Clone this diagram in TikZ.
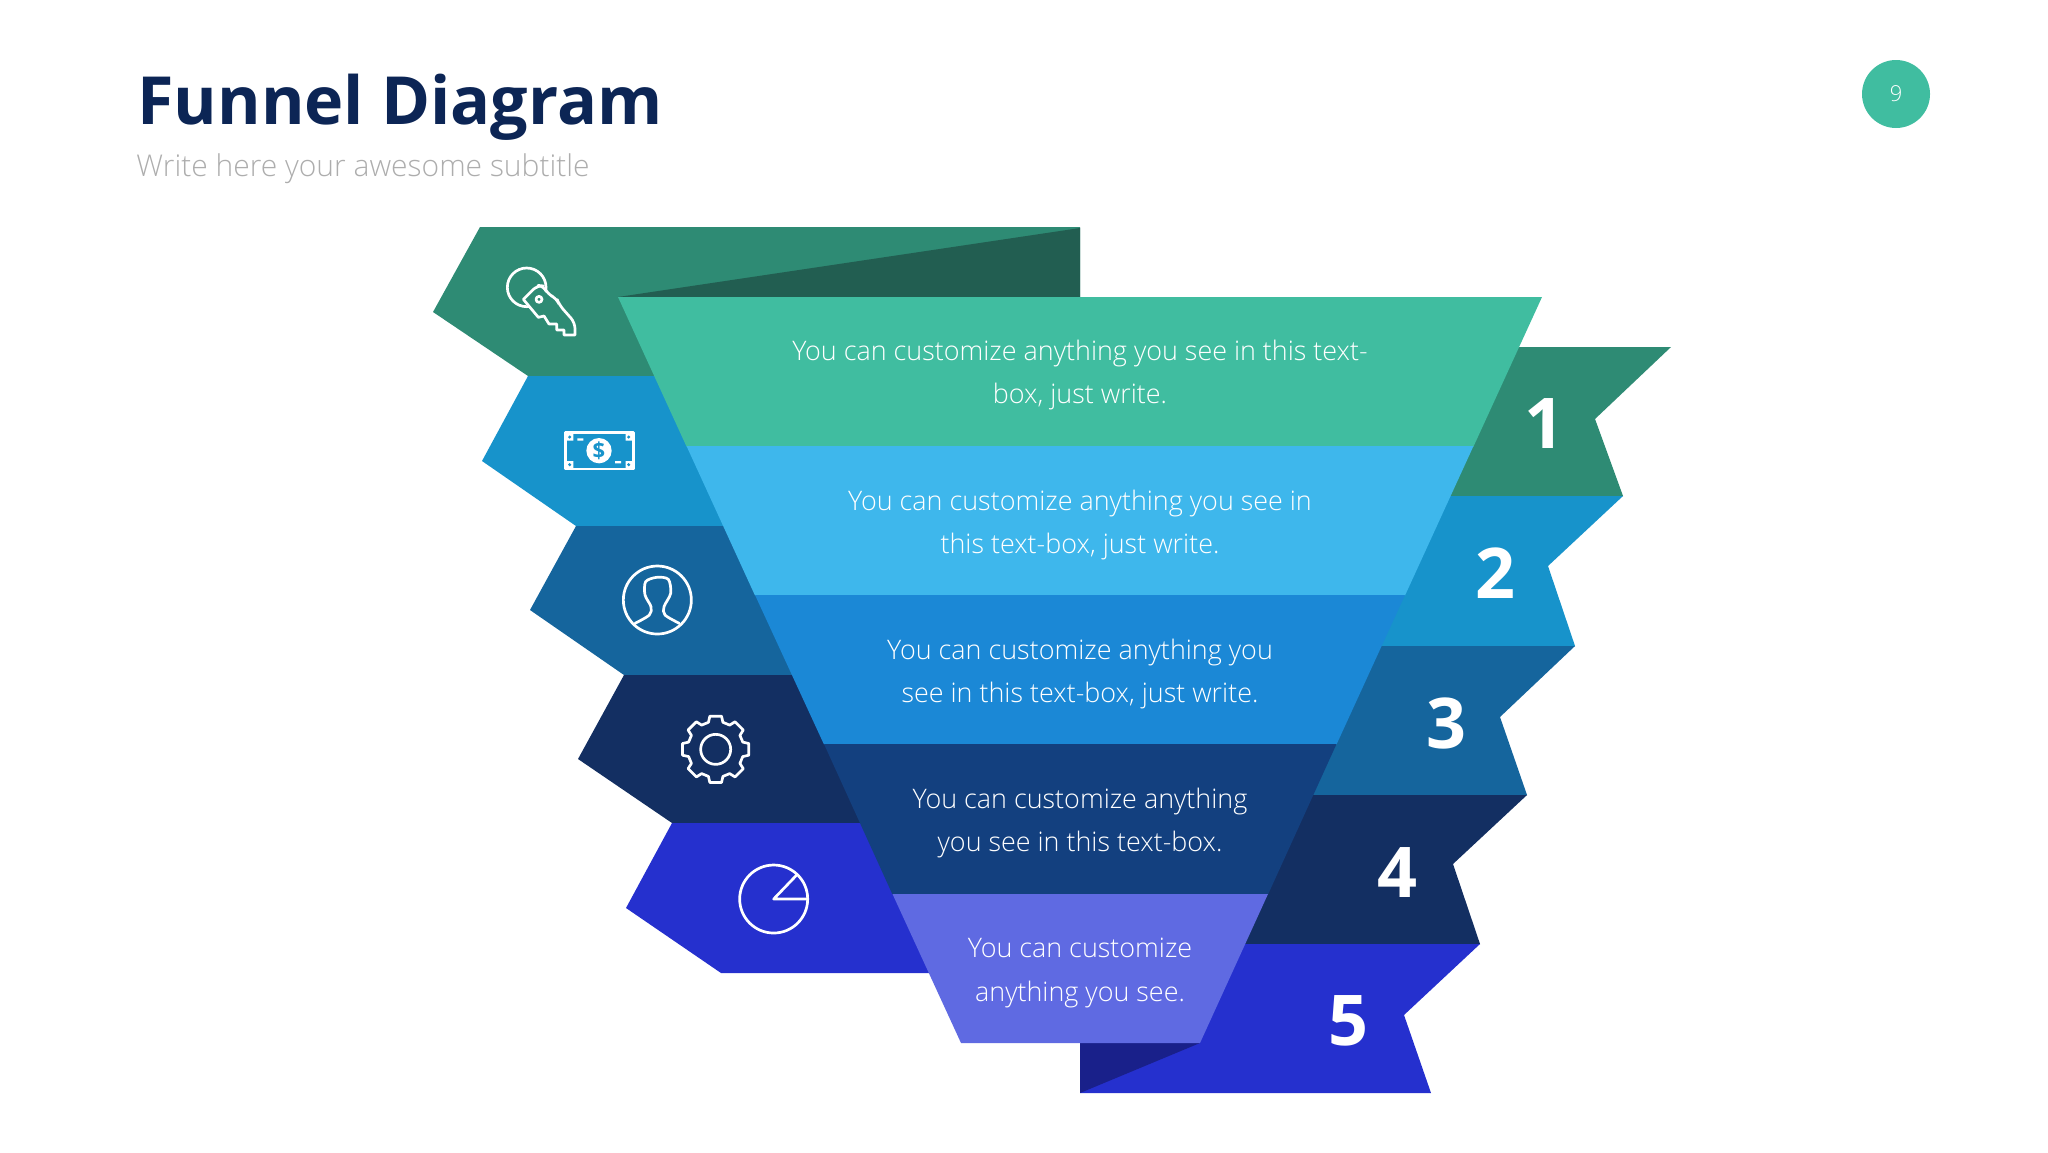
\documentclass[tikz,border=0pt]{standalone}
\usepackage{fontspec}
\setmainfont{Open Sans}
\newfontfamily\lightfont{Open Sans Light}
\definecolor{bandA}{HTML}{2E8B74}
\definecolor{bandB}{HTML}{1793CB}
\definecolor{bandC}{HTML}{15659D}
\definecolor{bandD}{HTML}{132F62}
\definecolor{bandE}{HTML}{2530CE}
\definecolor{rowA}{HTML}{40BDA0}
\definecolor{rowB}{HTML}{3EB7EC}
\definecolor{rowC}{HTML}{1B88D6}
\definecolor{rowD}{HTML}{13407F}
\definecolor{rowE}{HTML}{5F6AE2}
\definecolor{foldA}{HTML}{225E51}
\definecolor{foldE}{HTML}{19208A}
\definecolor{titleblue}{HTML}{0C2555}
\tikzset{
  rowtext/.style={text=white,align=center,font=\lightfont\fontsize{13.45}{21.75}\selectfont},
  numtext/.style={text=white,font=\bfseries\fontsize{35}{35}\selectfont},
  icon/.style={draw=white,line width=1.35pt},
  iconzoom/.style={x=0.16667pt,y=-0.16667pt}
}
\begin{document}
\begin{tikzpicture}[line cap=round,line join=round,x=0.5pt,y=-0.5pt]
\useasboundingbox (0,0) rectangle (2048,1152);
% left bands
\fill[bandA] (480,227) -- (1080,227) -- (1080,300) -- (700,376) -- (528,376) -- (433,312) -- cycle;
\fill[foldA] (618,297) -- (1080,228) -- (1080,297) -- cycle;
\fill[bandB] (528,376) -- (800,376) -- (800,526) -- (576,526) -- (482,461) -- cycle;
\fill[bandC] (576,526) -- (900,526) -- (900,675) -- (624,675) -- (530,610) -- cycle;
\fill[bandD] (624,675) -- (950,675) -- (950,823) -- (672,823) -- (578,759) -- cycle;
\fill[bandE] (672,823) -- (1000,823) -- (1000,973) -- (721,973) -- (626,908) -- cycle;
% right bands
\fill[bandA] (1671,347) -- (1400,347) -- (1400,496) -- (1623,496) -- (1595,419) -- cycle;
\fill[bandB] (1623,496) -- (1350,496) -- (1350,646) -- (1575,646) -- (1548,566) -- cycle;
\fill[bandC] (1575,646) -- (1300,646) -- (1300,795) -- (1527,795) -- (1500,717) -- cycle;
\fill[bandD] (1527,795) -- (1200,795) -- (1200,944) -- (1480,944) -- (1453,864) -- cycle;
\fill[bandE] (1480,944) -- (1150,944) -- (1080,1093) -- (1431,1093) -- (1404,1015) -- cycle;
\fill[foldE] (1080,1043) -- (1200,1043) -- (1080,1093) -- cycle;
% funnel
\fill[rowA] (618,297) -- (1542,297) -- (1473.5,446.5) -- (686.5,446.5) -- cycle;
\fill[rowB] (686.5,446) -- (1473.5,446) -- (1405,595.5) -- (755,595.5) -- cycle;
\fill[rowC] (755,595) -- (1405,595) -- (1336.5,744.5) -- (824,744.5) -- cycle;
\fill[rowD] (824,744) -- (1336.5,744) -- (1268,894.5) -- (892.5,894.5) -- cycle;
\fill[rowE] (892.5,894) -- (1268,894) -- (1200,1043) -- (961,1043) -- cycle;
% texts
\node[rowtext] (rowtextA) at (1080,375) {You can customize anything you see in this text-\\box, just write.};
\node[rowtext] (rowtextB) at (1080,525) {You can customize anything you see in\\this text-box, just write.};
\node[rowtext] (rowtextC) at (1080,674) {You can customize anything you\\see in this text-box, just write.};
\node[rowtext] (rowtextD) at (1080,823) {You can customize anything\\you see in this text-box.};
\node[rowtext] (rowtextE) at (1080,973) {You can customize\\anything you see.};
\node[numtext] (numA) at (1544,424) {1};
\node[numtext] (numB) at (1495,573) {2};
\node[numtext] (numC) at (1446,723) {3};
\node[numtext] (numD) at (1397,872) {4};
\node[numtext] (numE) at (1348,1021) {5};
\node[anchor=west,inner sep=0pt,text=titleblue,font=\bfseries\fontsize{33.2}{33}\selectfont] (title) at (137,107) {Funnel Diagram};
\node[anchor=west,inner sep=0pt,text=black!32,font=\lightfont\fontsize{15}{15}\selectfont] (subtitle) at (136,169) {Write here your awesome subtitle};
\node[circle,fill=rowA,minimum size=34pt,inner sep=0pt,text=white,font=\lightfont\fontsize{11}{11}\selectfont] (badge) at (1896,94) {9};
% key
\begin{scope}[shift={(400,200)},iconzoom]
\draw[icon] (380,262) circle (58);
\draw[icon,fill=bandA,rounded corners=3pt] (370,298) -- (412,256) -- (432,258) -- (442,282) -- (470,295) -- (478,315) -- (525,368) [sharp corners] -- (525,405) -- (492,405) -- (492,390) -- (470,390) -- (470,372) -- (447,372) -- (432,348) -- (415,352) -- cycle;
\draw[icon] (417,298) circle (9);
\end{scope}
% bill
\begin{scope}[shift={(400,200)},iconzoom]
\draw[icon] (497,698) rectangle (700,807);
\fill[white] (497,698) rectangle (520,722) (677,698) rectangle (700,722) (497,783) rectangle (520,807) (677,783) rectangle (700,807);
\fill[bandB] (509,711) circle (5) (686,711) circle (5) (509,794) circle (5) (686,794) circle (5);
\fill[white] (597,752) circle (38);
\fill[white] (532,715) rectangle (550,722) (645,783) rectangle (663,790);
\node[text=bandB,inner sep=0pt,font=\bfseries\fontsize{11}{11}\selectfont] (dollar) at (597,752) {\$};
\end{scope}
% person
\begin{scope}[shift={(550,540)},iconzoom]
\draw[icon] (322,180) circle (102);
\draw[icon] plot[smooth] coordinates {(255,250) (298,225) (303,200) (285,165) (287,125) (320,112) (355,118) (362,160) (342,200) (345,225) (388,250)};
\end{scope}
% gear
\begin{scope}[shift={(550,540)},iconzoom]
\draw[icon] (497,628) circle (45);
\begin{scope}[shift={(497,628)}]
\draw[icon] (-16:84) \foreach \a in {0,45,...,315}{ -- (\a-15:84) -- (\a-10:101) -- (\a+10:101) -- (\a+15:84)} -- cycle;
\end{scope}
\end{scope}
% pie
\begin{scope}[shift={(550,540)},iconzoom]
\draw[icon] (671,1077) circle (102);
\draw[icon] (740,1005) -- (671,1077) -- (771,1077);
\end{scope}
\end{tikzpicture}
\end{document}
